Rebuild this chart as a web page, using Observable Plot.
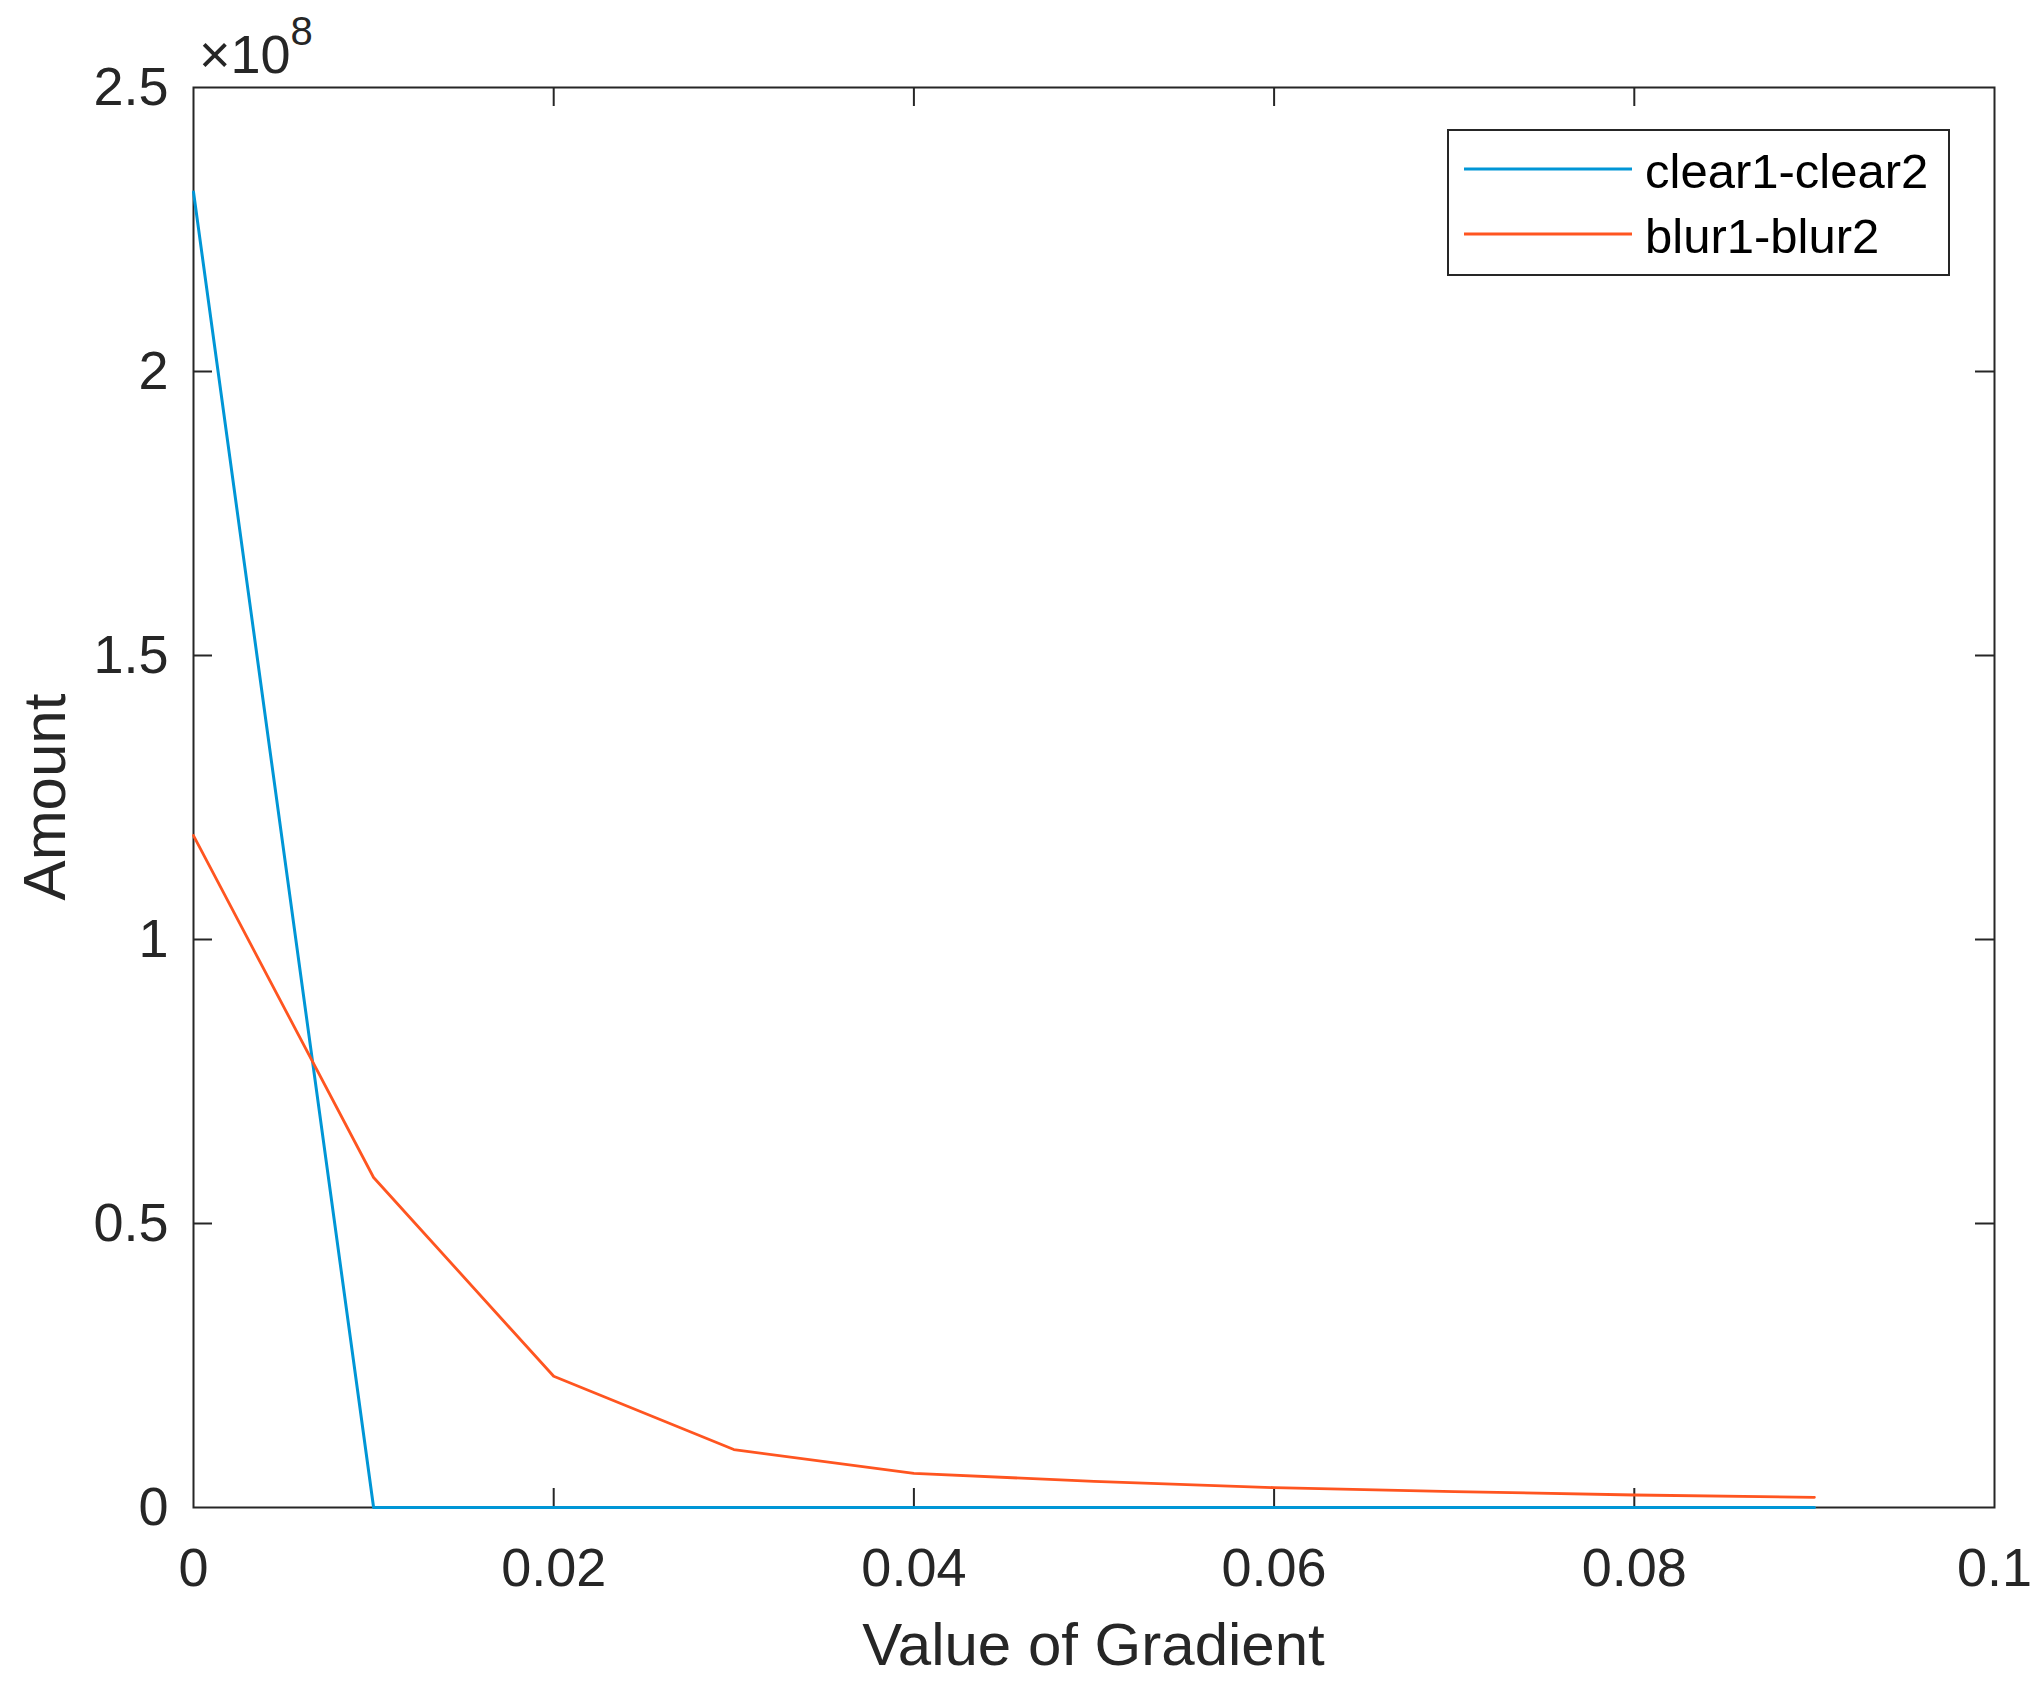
<!DOCTYPE html>
<html>
<head>
<meta charset="utf-8">
<script src="https://cdn.jsdelivr.net/npm/d3@7"></script>
<script src="https://cdn.jsdelivr.net/npm/@observablehq/plot@0.6"></script>
<style>
  body { margin: 0; background: #fff; }
  #chart svg { display: block; }
</style>
</head>
<body>
<div id="chart"></div>
<script>
// ---- data ----
const gradient = [0, 0.01, 0.02, 0.03, 0.04, 0.05, 0.06, 0.07, 0.08, 0.09];
const clearAmount = [2.316e8, 0, 0, 0, 0, 0, 0, 0, 0, 0];
const blurAmount = [1.183e8, 0.581e8, 0.231e8, 0.102e8, 0.060e8, 0.046e8, 0.035e8, 0.028e8, 0.022e8, 0.018e8];
const seriesNames = ["clear1-clear2", "blur1-blur2"];
const seriesColors = ["#0096D6", "#FF5520"];
const xTickValues = [0, 0.02, 0.04, 0.06, 0.08, 0.1];
const xTickLabels = ["0", "0.02", "0.04", "0.06", "0.08", "0.1"];
const yTickValues = [0, 0.5e8, 1e8, 1.5e8, 2e8, 2.5e8];
const yTickLabels = ["0", "0.5", "1", "1.5", "2", "2.5"];
const xLabel = "Value of Gradient";
const yLabel = "Amount";
const yExponentBase = "\u00D710";
const yExponent = "8";

// ---- layout ----
const W = 2043, H = 1700;
const mL = 193, mR = 49, mT = 87, mB = 193;
const innerW = W - mL - mR, innerH = H - mT - mB;
const tickLen = 19;
const axisColor = "#262626";
const fontFamily = "'Liberation Sans', Arial, Helvetica, sans-serif";

const clearRows = gradient.map((g, i) => ({x: g, y: clearAmount[i], series: seriesNames[0]}));
const blurRows = gradient.map((g, i) => ({x: g, y: blurAmount[i], series: seriesNames[1]}));

const xInner = xTickValues.slice(1, -1);
const yInner = yTickValues.slice(1, -1);

const svg = Plot.plot({
  width: W,
  height: H,
  marginLeft: mL,
  marginRight: mR,
  marginTop: mT,
  marginBottom: mB,
  style: {fontFamily, fontSize: "54px", color: axisColor, background: "#fff", overflow: "visible"},
  x: {domain: [0, 0.1], label: null},
  y: {domain: [0, 2.5e8], label: null},
  marks: [
    Plot.frame({stroke: axisColor, strokeWidth: 2}),
    Plot.axisX(xTickValues, {anchor: "bottom", tickSize: 0, tickPadding: 40, label: null,
      tickFormat: d => xTickLabels[xTickValues.indexOf(d)], fill: axisColor, fontSize: 54}),
    Plot.axisY(yTickValues, {anchor: "left", tickSize: 0, tickPadding: 25, label: null,
      tickFormat: d => yTickLabels[yTickValues.indexOf(d)], fill: axisColor, fontSize: 54}),
    Plot.ruleX(xInner, {x: d => d, insetTop: innerH - tickLen, stroke: axisColor, strokeWidth: 2}),
    Plot.ruleX(xInner, {x: d => d, insetBottom: innerH - tickLen, stroke: axisColor, strokeWidth: 2}),
    Plot.ruleY(yInner, {y: d => d, insetRight: innerW - tickLen, stroke: axisColor, strokeWidth: 2}),
    Plot.ruleY(yInner, {y: d => d, insetLeft: innerW - tickLen, stroke: axisColor, strokeWidth: 2}),
    Plot.line(clearRows, {x: "x", y: "y", stroke: seriesColors[0], strokeWidth: 3}),
    Plot.line(blurRows, {x: "x", y: "y", stroke: seriesColors[1], strokeWidth: 2.8})
  ]
});

document.getElementById("chart").appendChild(svg);

const s = d3.select(svg);

// axis titles
s.append("text")
  .attr("x", mL + innerW / 2).attr("y", 1665)
  .attr("text-anchor", "middle")
  .attr("font-family", fontFamily).attr("font-size", 60)
  .attr("fill", axisColor)
  .text(xLabel);

s.append("text")
  .attr("transform", `translate(65,${mT + innerH / 2}) rotate(-90)`)
  .attr("text-anchor", "middle")
  .attr("font-family", fontFamily).attr("font-size", 60)
  .attr("fill", axisColor)
  .text(yLabel);

// exponent
const ex = s.append("text")
  .attr("x", 199).attr("y", 73)
  .attr("text-anchor", "start")
  .attr("font-family", fontFamily).attr("font-size", 54)
  .attr("fill", axisColor);
ex.append("tspan").text(yExponentBase);
ex.append("tspan").attr("font-size", 40).attr("dy", -28).text(yExponent);

// legend
const lg = s.append("g");
lg.append("rect")
  .attr("x", 1448).attr("y", 130).attr("width", 501).attr("height", 145)
  .attr("fill", "#fff").attr("stroke", axisColor).attr("stroke-width", 2);
seriesNames.forEach((name, i) => {
  const yLine = 169 + i * 65;
  lg.append("line")
    .attr("x1", 1464).attr("x2", 1632).attr("y1", yLine).attr("y2", yLine)
    .attr("stroke", seriesColors[i]).attr("stroke-width", 3);
  lg.append("text")
    .attr("x", 1645).attr("y", yLine + 19)
    .attr("text-anchor", "start")
    .attr("font-family", fontFamily).attr("font-size", 49)
    .attr("fill", "#000")
    .text(name);
});
</script>
</body>
</html>
